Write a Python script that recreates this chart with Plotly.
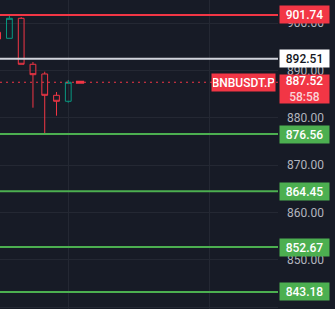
import plotly.graph_objects as go

# Candle data (index, open, high, low, close)
idx = [0, 1, 2, 3, 4, 5, 6, 7]
opens = [898.08, 896.81, 901.04, 891.32, 889.27, 884.76, 883.50, 887.52]
highs = [898.40, 901.74, 901.30, 891.80, 889.75, 885.46, 888.00, 887.52]
lows = [896.50, 896.81, 891.32, 882.14, 876.50, 880.45, 883.20, 887.52]
closes = [896.67, 901.04, 891.32, 889.12, 884.76, 883.50, 887.52, 887.52]

last_price = 887.52
countdown = "58:58"
symbol = "BNBUSDT.P"
resistance = [901.74]
ref_level = [892.51]
supports = [876.56, 864.45, 852.67, 843.18]
y_ticks = [840, 850, 860, 870, 880, 890, 900]

BG = "#171b26"
GRID = "#242833"
RED = "#f23645"
GREEN_C = "#089981"
GREEN_L = "#4caf50"
TXT = "#b2b5be"
FONT = "Roboto"
BOXGAP = 0.3

fig = go.Figure()
fig.add_trace(go.Candlestick(
    x=idx, open=opens, high=highs, low=lows, close=closes,
    increasing=dict(line=dict(color=GREEN_C, width=1), fillcolor="rgba(0,0,0,0)"),
    decreasing=dict(line=dict(color=RED, width=1), fillcolor="rgba(0,0,0,0)"),
    whiskerwidth=0, showlegend=False, hoverinfo="skip",
))

# the newest (flat) candle drawn as a thick dash
half = (1 - BOXGAP) / 2
fig.add_trace(go.Scatter(
    x=[idx[-1] - half, idx[-1] + half], y=[closes[-1], closes[-1]],
    mode="lines", line=dict(color=RED, width=3), showlegend=False, hoverinfo="skip",
))

shapes = []
annotations = []

def badge(v, text, bg, fg, **kw):
    d = dict(xref="paper", yref="y", x=1, y=v, xanchor="left", yanchor="middle",
             xshift=1, text=text, showarrow=False, bgcolor=bg,
             font=dict(color=fg, size=12, family=FONT, weight=500), width=47, height=15,
             borderpad=1, align="center")
    d.update(kw)
    annotations.append(d)

for v in resistance:
    shapes.append(dict(type="line", xref="paper", yref="y", x0=0, x1=1, y0=v, y1=v,
                       line=dict(color=RED, width=2)))
    badge(v, f"{v:.2f}", RED, "#ffffff")
for v in ref_level:
    shapes.append(dict(type="line", xref="paper", yref="y", x0=0, x1=1, y0=v, y1=v,
                       line=dict(color="#d1d4dc", width=2)))
    badge(v, f"{v:.2f}", "#ffffff", "#131722")
for v in supports:
    shapes.append(dict(type="line", xref="paper", yref="y", x0=0, x1=1, y0=v, y1=v,
                       line=dict(color=GREEN_L, width=2)))
    badge(v, f"{v:.2f}", GREEN_L, "#ffffff")

# last price dotted line
shapes.append(dict(type="line", xref="paper", yref="y", x0=0, x1=1, y0=last_price, y1=last_price,
                   line=dict(color=RED, width=1, dash="2px,4px")))
badge(last_price, f"{last_price:.2f}<br><span style='color:#fbd5d9'>{countdown}</span>",
      RED, "#ffffff", yanchor="top", yshift=8, height=26)
annotations.append(dict(xref="paper", yref="y", x=1, y=last_price, xanchor="right",
                        yanchor="middle", xshift=-2, yshift=-0.5, text=symbol, showarrow=False,
                        bgcolor=RED, font=dict(color="#ffffff", size=12, family=FONT, weight=500),
                        width=61, height=15, borderpad=1, align="center"))

fig.update_layout(
    width=335, height=309,
    margin=dict(l=0, r=57, t=0, b=0),
    paper_bgcolor=BG, plot_bgcolor=BG,
    shapes=shapes, annotations=annotations,
    xaxis=dict(range=[0.2, 23.82], rangeslider=dict(visible=False), showticklabels=False,
               showgrid=True, gridcolor=GRID, gridwidth=1, tick0=6, dtick=12,
               zeroline=False, showline=False, fixedrange=True),
    yaxis=dict(range=[839.58, 904.91], side="right", tickvals=y_ticks,
               ticktext=[f"{t:.2f}" for t in y_ticks], showgrid=True, gridcolor=GRID,
               gridwidth=1, zeroline=False, showline=False, ticks="",
               ticklabelstandoff=8,
               tickfont=dict(color=TXT, size=12, family=FONT), fixedrange=True),
    boxgap=BOXGAP,
    font=dict(family=FONT),
)

fig.write_html("out.html", config=dict(displayModeBar=False))
